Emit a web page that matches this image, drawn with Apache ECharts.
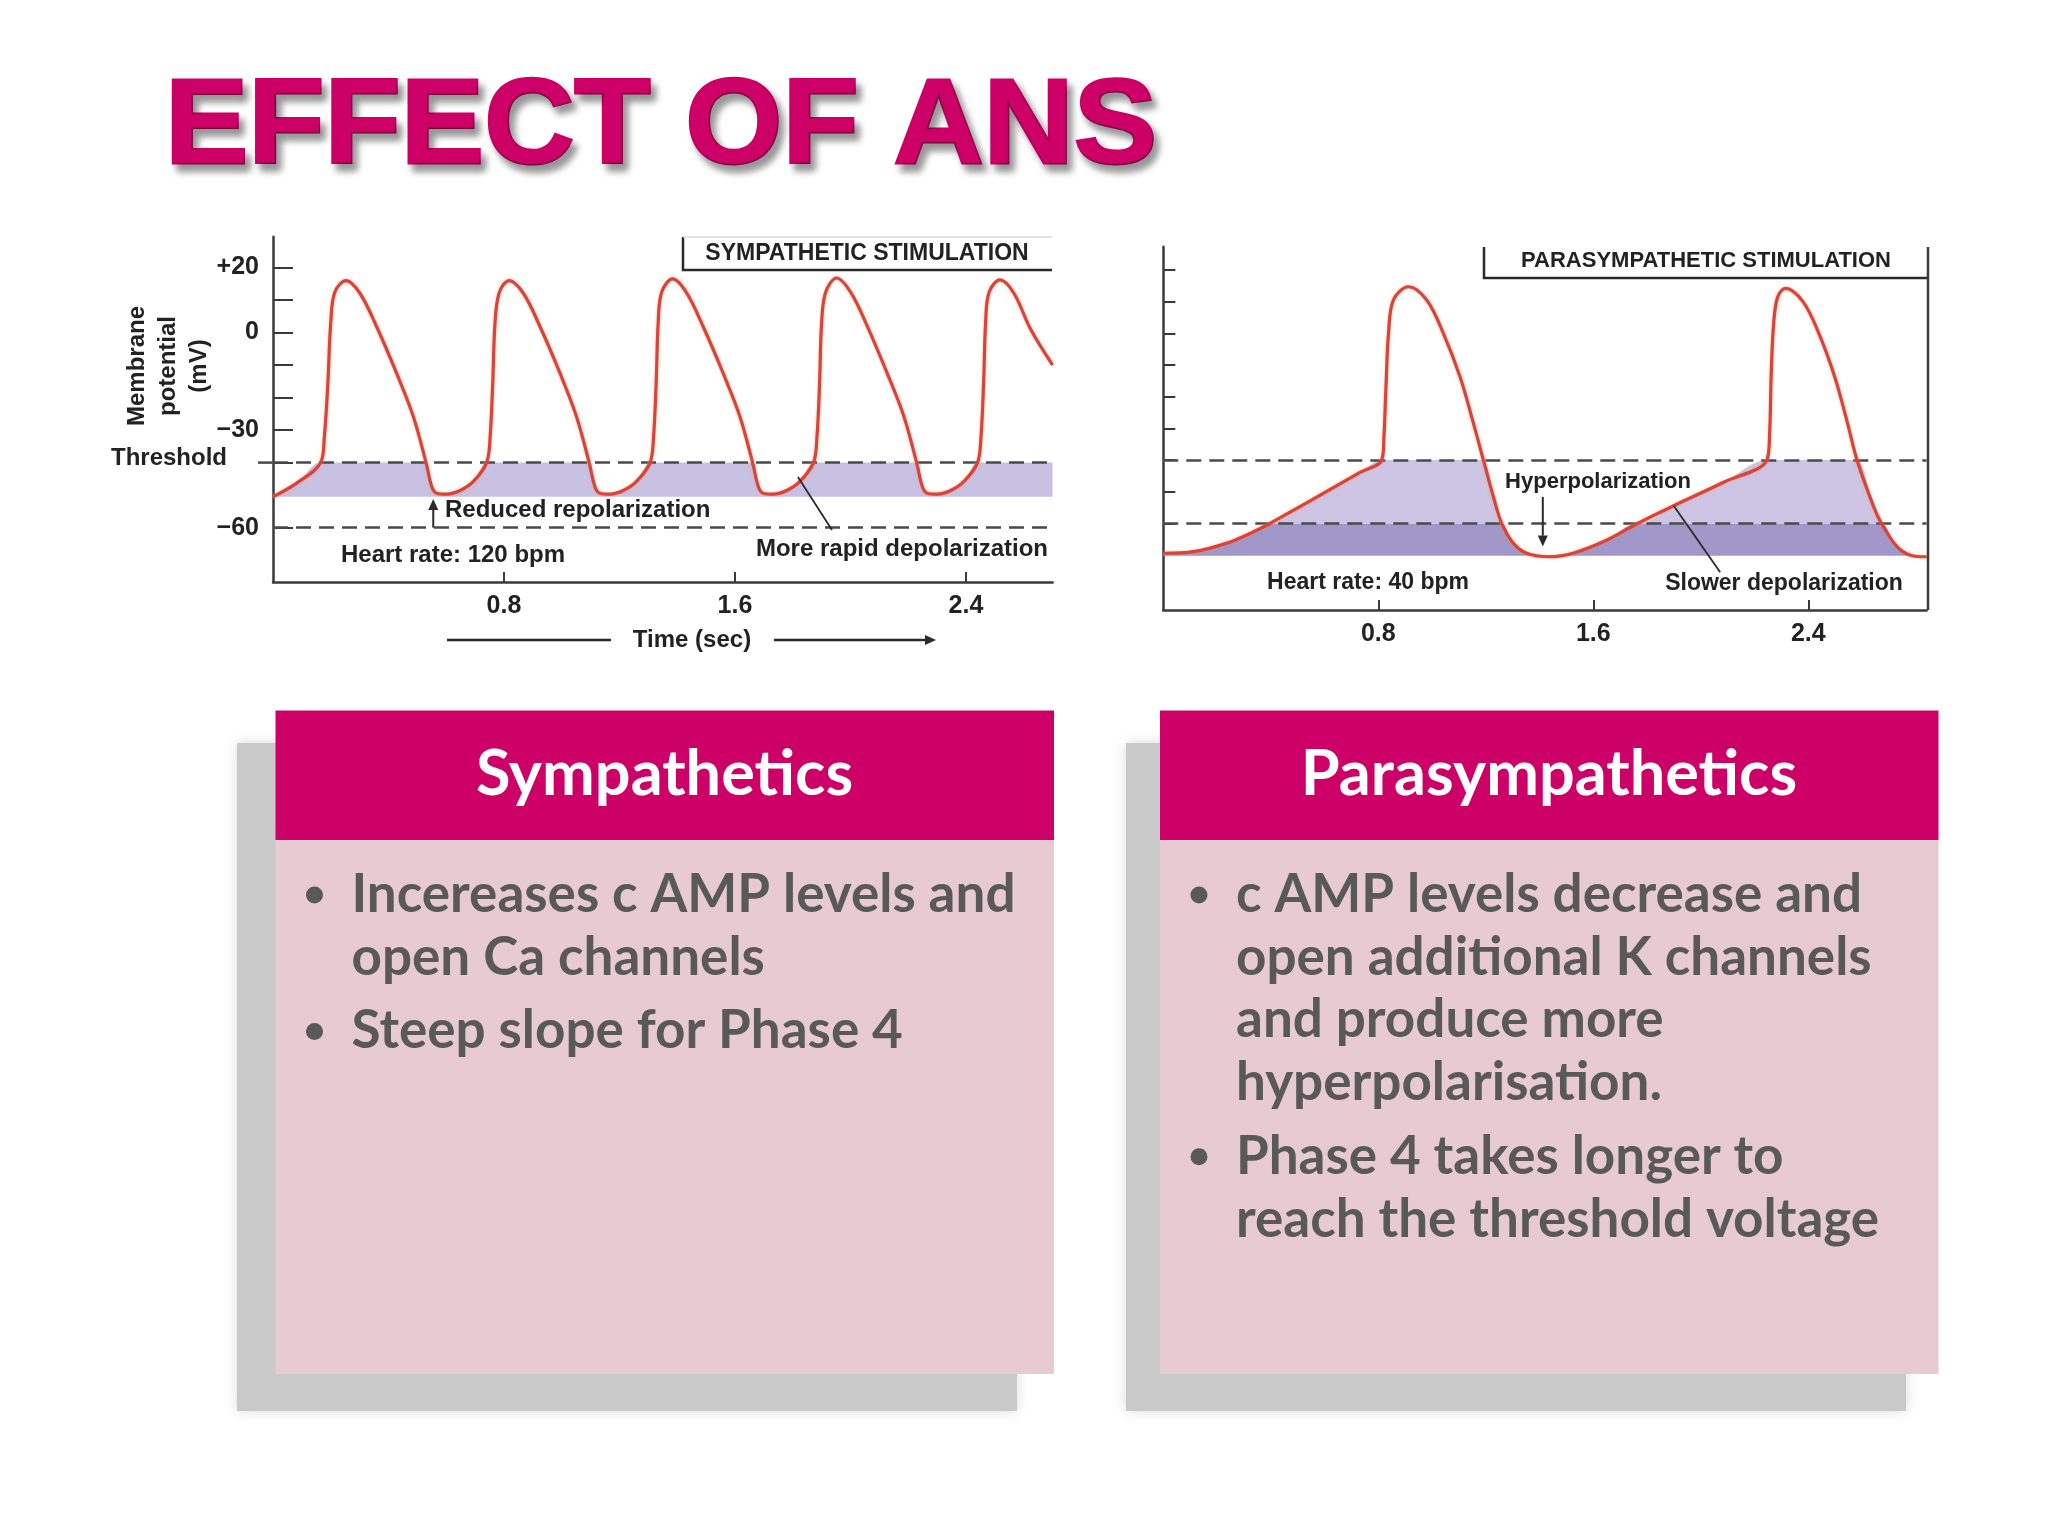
<!DOCTYPE html>
<html>
<head>
<meta charset="utf-8">
<script src="https://cdn.jsdelivr.net/npm/echarts@6/dist/echarts.min.js"></script>
<style>
  html, body { margin: 0; padding: 0; background: #ffffff; }
  #main { width: 2048px; height: 1536px; }
</style>
</head>
<body>
<div id="main"></div>
<script>
// sympathetic trace, time (s) and membrane potential (mV)
const symT = [0, 0.082, 0.165, 0.178, 0.190, 0.200, 0.214, 0.253, 0.301, 0.359, 0.428, 0.486, 0.530, 0.550, 0.567, 0.602, 0.648, 0.694, 0.740,
  0.752, 0.761, 0.769, 0.784, 0.818, 0.867, 0.925, 0.994, 1.051, 1.095, 1.115, 1.132, 1.167, 1.213, 1.259, 1.306,
  1.318, 1.327, 1.334, 1.346, 1.384, 1.432, 1.490, 1.559, 1.617, 1.661, 1.681, 1.698, 1.733, 1.779, 1.825, 1.872,
  1.884, 1.893, 1.900, 1.914, 1.952, 2.000, 2.058, 2.127, 2.185, 2.229, 2.249, 2.266, 2.301, 2.347, 2.393, 2.440,
  2.452, 2.461, 2.468, 2.480, 2.518, 2.566, 2.624, 2.700];
const symV = [-50.5, -46.3, -40, -32, -15.6, 3, 12.4, 16, 12.1, 1.8, -12.5, -25.8, -40, -47.4, -49.4, -49.7, -48.6, -45.8, -40,
  -32, -15.6, 3, 12.4, 16, 12.1, 1.8, -12.5, -25.8, -40, -47.4, -49.4, -49.7, -48.6, -45.8, -40,
  -32, -15.6, 3, 12.4, 16.5, 12.3, 1.8, -12.5, -25.8, -40, -47.4, -49.4, -49.7, -48.6, -45.8, -40,
  -32, -15.6, 3, 12.4, 16.8, 12.5, 2, -12.5, -25.8, -40, -47.4, -49.4, -49.7, -48.6, -45.8, -40,
  -32, -15.6, 3, 12.4, 16.2, 12.1, 1, -10];

// parasympathetic trace
const paraT = [0, 0.112, 0.237, 0.336, 0.397, 0.485, 0.608, 0.732, 0.813, 0.821, 0.829, 0.838, 0.856, 0.912, 0.980, 1.042,
  1.104, 1.154, 1.191, 1.228, 1.259, 1.302, 1.352, 1.435, 1.527, 1.651, 1.765, 1.899, 2.085, 2.246, 2.256, 2.262,
  2.271, 2.286, 2.315, 2.380, 2.439, 2.498, 2.546, 2.581, 2.643, 2.672, 2.730, 2.780, 2.840];
const paraV = [-69.4, -68.9, -66.2, -62.6, -60, -55.8, -49.9, -43.9, -40, -32.6, -15.8, 0, 10.5, 14.7, 10.5, 0,
  -13.7, -28.4, -40, -51.5, -60, -66.2, -69.4, -70.5, -69.3, -65.2, -60, -54.4, -47, -40, -31.5, -12.6,
  3.2, 11.5, 14.2, 10, 0, -13.7, -28.4, -40, -54.7, -60, -67.3, -70, -70.5];

const timeTicks = [0.8, 1.6, 2.4];
const mvTicks = [20, 10, 0, -10, -20, -30, -40, -50, -60];
const mvLabels = [20, 0, -30, -60];
const threshold = -40;
const restLine = -60;

const symBullets = [['Incereases c AMP levels and', 'open Ca channels'], ['Steep slope for Phase 4']];
const paraBullets = [['c AMP levels decrease and', 'open additional K channels', 'and produce more', 'hyperpolarisation.'],
  ['Phase 4 takes longer to', 'reach the threshold voltage']];

const symLine = symT.map((t, i) => [t, symV[i]]);
const symBand = symT.map((t, i) => [t, Math.min(symV[i], threshold)]);
const paraLine = paraT.map((t, i) => [t, paraV[i]]);
const paraLight = paraT.map((t, i) => [t, Math.max(restLine, Math.min(paraV[i], threshold))]);
const paraDark = paraT.map((t, i) => [t, Math.min(paraV[i], restLine)]);

const ink = '#222222';
const red = '#d8443b';
const figFont = "'Liberation Sans', Arial, sans-serif";
const slideFont = "Lato, 'Open Sans', sans-serif";
const curveSmooth = 0.35;

const chart = echarts.init(document.getElementById('main'));

function timeAxis(grid, max) {
  return {
    gridIndex: grid, type: 'value', min: 0, max: max, interval: 0.8,
    axisLine: { show: true, onZero: false, lineStyle: { color: '#3a3a3a', width: 2.5 } },
    axisTick: { show: true, inside: true, length: 10, customValues: timeTicks, lineStyle: { color: '#3a3a3a', width: 2 } },
    axisLabel: { customValues: timeTicks, formatter: v => v.toFixed(1), margin: 12,
      fontFamily: figFont, fontWeight: 'bold', fontSize: 25, color: ink },
    splitLine: { show: false }
  };
}

function dashes() {
  return {
    silent: true, symbol: 'none', label: { show: false },
    lineStyle: { type: [15, 8], color: '#4a4a4a', width: 2.5 },
    data: [{ yAxis: threshold }, { yAxis: restLine }]
  };
}

const option = {
  animation: false,
  backgroundColor: '#ffffff',
  grid: [
    { left: 273, top: 236.7, width: 779.6, height: 345.2 },
    { left: 1163.3, top: 246.8, width: 763.3, height: 363.2 }
  ],
  xAxis: [timeAxis(0, 2.7), timeAxis(1, 2.84)],
  yAxis: [
    {
      gridIndex: 0, type: 'value', min: -76.7, max: 29.5,
      axisLine: { show: true, onZero: false, lineStyle: { color: '#3a3a3a', width: 2.5 } },
      axisTick: { show: true, inside: true, length: 20, customValues: mvTicks, lineStyle: { color: '#3a3a3a', width: 2 } },
      axisLabel: { customValues: mvLabels, margin: 14, fontFamily: figFont, fontWeight: 'bold', fontSize: 25, color: ink,
        formatter: v => v > 0 ? '+' + v : (v < 0 ? '\u2212' + Math.abs(v) : '0') },
      splitLine: { show: false }
    },
    {
      gridIndex: 1, type: 'value', min: -87.3, max: 27.3,
      axisLine: { show: true, onZero: false, lineStyle: { color: '#3a3a3a', width: 2.5 } },
      axisTick: { show: true, inside: true, length: 12, customValues: mvTicks, lineStyle: { color: '#3a3a3a', width: 2 } },
      axisLabel: { show: false },
      splitLine: { show: false }
    }
  ],
  series: [
    {
      type: 'line', xAxisIndex: 0, yAxisIndex: 0, data: symBand, smooth: curveSmooth,
      showSymbol: false, silent: true, z: 1,
      lineStyle: { width: 0, opacity: 0 },
      areaStyle: { color: '#c9c1e2', opacity: 1, origin: -50.5 },
      markLine: dashes()
    },
    {
      type: 'line', xAxisIndex: 0, yAxisIndex: 0, data: symLine, smooth: curveSmooth,
      showSymbol: false, silent: true, z: 5,
      lineStyle: { color: red, width: 3.2, shadowColor: 'rgba(255,140,90,0.6)', shadowBlur: 3 }
    },
    {
      type: 'line', xAxisIndex: 1, yAxisIndex: 1, data: paraDark, smooth: curveSmooth,
      showSymbol: false, silent: true, z: 1,
      lineStyle: { width: 0, opacity: 0 },
      areaStyle: { color: '#a197c9', opacity: 1, origin: -70.2 }
    },
    {
      type: 'line', xAxisIndex: 1, yAxisIndex: 1, data: paraLight, smooth: curveSmooth,
      showSymbol: false, silent: true, z: 1,
      lineStyle: { width: 0, opacity: 0 },
      areaStyle: { color: '#cdc5e3', opacity: 1, origin: restLine },
      markLine: dashes()
    },
    {
      type: 'line', xAxisIndex: 1, yAxisIndex: 1, data: paraLine, smooth: curveSmooth,
      showSymbol: false, silent: true, z: 5,
      lineStyle: { color: red, width: 3.2, shadowColor: 'rgba(255,140,90,0.6)', shadowBlur: 3 }
    }
  ]
};
chart.setOption(option);

const L = p => chart.convertToPixel({ gridIndex: 0 }, p);
const R = p => chart.convertToPixel({ gridIndex: 1 }, p);

function txt(x, y, text, size, align, extra) {
  return {
    type: 'text', x: x, y: y, silent: true, z: 10,
    style: Object.assign({ text: text, fontFamily: figFont, fontWeight: 'bold', fontSize: size, fill: ink,
      textAlign: align || 'center', textVerticalAlign: 'middle' }, extra || {})
  };
}
function seg(a, b, w, color, dash) {
  return { type: 'line', silent: true, z: 10,
    shape: { x1: a[0], y1: a[1], x2: b[0], y2: b[1] },
    style: { stroke: color || '#2a2a2a', lineWidth: w || 2, lineDash: dash || null } };
}
function arrow(a, b, w) {
  const ang = Math.atan2(b[1] - a[1], b[0] - a[0]);
  const len = 11, half = 5;
  const bx = b[0] - len * Math.cos(ang), by = b[1] - len * Math.sin(ang);
  const px = -Math.sin(ang) * half, py = Math.cos(ang) * half;
  return [
    seg(a, [bx, by], w),
    { type: 'polygon', silent: true, z: 10,
      shape: { points: [b, [bx + px, by + py], [bx - px, by - py]] },
      style: { fill: '#2a2a2a' } }
  ];
}

function box(x, title, bullets, shadowX) {
  const out = [
    { type: 'rect', silent: true, z: 1, shape: { x: shadowX, y: 743, width: 780, height: 668 },
      style: { fill: '#c9c9c9', shadowBlur: 12, shadowColor: 'rgba(0,0,0,0.15)' } },
    { type: 'rect', silent: true, z: 2, shape: { x: x, y: 840, width: 778.5, height: 534 }, style: { fill: '#e8cad3' } },
    { type: 'rect', silent: true, z: 2, shape: { x: x, y: 710.5, width: 778.5, height: 129.5 }, style: { fill: '#cc0066' } },
    { type: 'text', silent: true, z: 3, x: x + 389, y: 775,
      style: { text: title, fontFamily: slideFont, fontWeight: 'bold', fontSize: 63, fill: '#ffffff',
        textAlign: 'center', textVerticalAlign: 'middle' } }
  ];
  let y = 895;
  bullets.forEach(lines => {
    out.push({ type: 'circle', silent: true, z: 3, shape: { cx: x + 39, cy: y, r: 8.5 }, style: { fill: '#595959' } });
    lines.forEach(line => {
      out.push({ type: 'text', silent: true, z: 3, x: x + 76, y: y,
        style: { text: line, fontFamily: slideFont, fontWeight: 'bold', fontSize: 53, fill: '#595959',
          textAlign: 'left', textVerticalAlign: 'middle' } });
      y += 62.7;
    });
    y += 11;
  });
  return out;
}

const g = [];
// slide title
g.push({ type: 'text', silent: true, z: 10, x: 165, y: 130, scaleX: 1.032,
  style: { text: 'EFFECT OF ANS', fontFamily: figFont, fontWeight: 'bold', fontSize: 121, fill: '#cc0066',
    stroke: '#cc0066', lineWidth: 3, textAlign: 'left', textVerticalAlign: 'middle',
    textShadowColor: 'rgba(0,0,0,0.4)', textShadowBlur: 7, textShadowOffsetX: 5, textShadowOffsetY: 7 } });

// sympathetic figure
g.push(txt(168, 366, 'Membrane\npotential\n(mV)', 24, 'center', { lineHeight: 31 }));
g[g.length - 1].rotation = Math.PI / 2;
g.push(txt(227, 458, 'Threshold', 24, 'right'));
g.push(seg([258, L([0, threshold])[1]], [273, L([0, threshold])[1]], 2.5, '#4a4a4a'));
g.push({ type: 'polyline', silent: true, z: 10, shape: { points: [[683, 237], [683, 270], [1052, 270]] },
  style: { stroke: '#2a2a2a', lineWidth: 2.5, fill: null } });
g.push(seg([683, 237], [1052, 237], 1.5, '#d9d9d9'));
g.push(txt(867, 254, 'SYMPATHETIC STIMULATION', 23));
g.push(...arrow(L([0.555, restLine]), L([0.555, -51.2]), 2));
g.push(txt(445, 510, 'Reduced repolarization', 24, 'left'));
g.push(txt(453, 555, 'Heart rate: 120 bpm', 24));
g.push(txt(1048, 549, 'More rapid depolarization', 24, 'right'));
g.push(seg(L([1.818, -44.4]), L([1.936, -60.7]), 1.8));
g.push(txt(692, 640, 'Time (sec)', 24));
g.push(seg([447, 640], [611, 640], 2.5));
g.push(...arrow([774, 640], [936, 640], 2.5));

// parasympathetic figure
g.push({ type: 'polyline', silent: true, z: 10, shape: { points: [[1484, 247], [1484, 278], [1928, 278]] },
  style: { stroke: '#2a2a2a', lineWidth: 2.5, fill: null } });
g.push(seg([1928, 247], [1928, 610], 2.5, '#3a3a3a'));
g.push(txt(1706, 261, 'PARASYMPATHETIC STIMULATION', 22));
g.push(txt(1598, 482, 'Hyperpolarization', 22));
g.push(...arrow(R([1.412, -51.6]), R([1.412, -67.3]), 2));
g.push(txt(1368, 583, 'Heart rate: 40 bpm', 23));
g.push(txt(1784, 584, 'Slower depolarization', 23));
g.push(seg(R([1.899, -54.4]), R([2.072, -75.4]), 1.8));

// text boxes
g.push(...box(275.5, 'Sympathetics', symBullets, 237));
g.push(...box(1160, 'Parasympathetics', paraBullets, 1126));

chart.setOption({ graphic: g });
</script>
</body>
</html>
